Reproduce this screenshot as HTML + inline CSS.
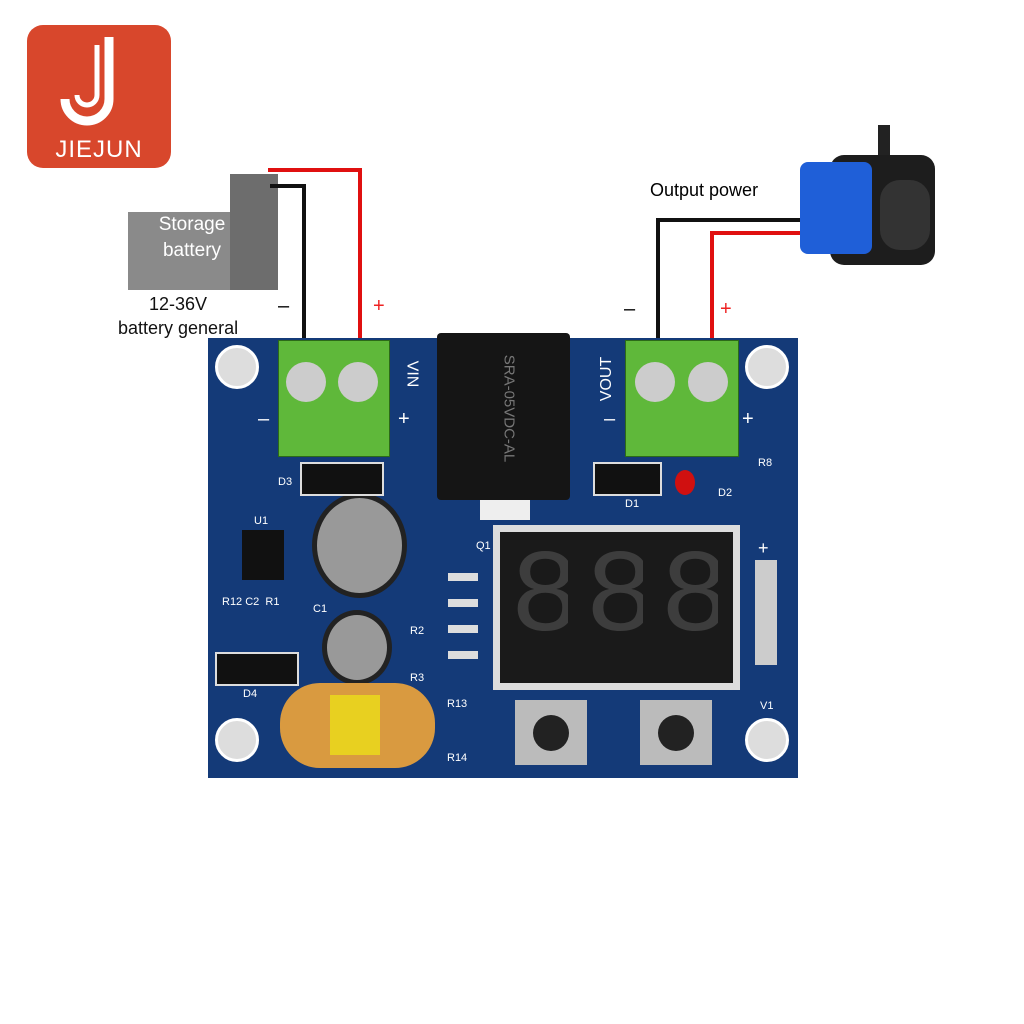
<!DOCTYPE html>
<html><head><meta charset="utf-8"><style>
body{margin:0;width:1024px;height:1024px;background:#fff;position:relative;overflow:hidden;font-family:"Liberation Sans",sans-serif}
.a{position:absolute}
.l{position:absolute;color:#fff;font-size:11px}
.d{position:absolute;top:545px;width:58px;height:110px;color:#3d3d3d;font-size:118px;line-height:110px;font-family:"Liberation Mono",monospace;overflow:hidden;text-align:center}
</style></head><body>
<div class="a" style="left:27px;top:25px;width:144px;height:143px;background:#d8472c;border-radius:16px"></div>
<svg class="a" style="left:27px;top:25px" width="144" height="143">
<path d="M82 12 v62 a22 22 0 0 1 -44 0" stroke="#fff" stroke-width="9" fill="none"/>
<path d="M70 20 v50 a10 10 0 0 1 -20 0" stroke="#fff" stroke-width="5" fill="none"/>
<text x="72" y="132" fill="#fff" font-size="24" text-anchor="middle" font-family="Liberation Sans" letter-spacing="1">JIEJUN</text>
</svg>
<!-- battery -->
<div class="a" style="left:128px;top:212px;width:140px;height:78px;background:#8a8a8a"></div>
<div class="a" style="left:230px;top:174px;width:48px;height:116px;background:#6d6d6d"></div>
<div class="a" style="left:128px;top:212px;width:128px;color:#fff;font-size:19px;text-align:center;line-height:26px">Storage<br>battery</div>
<div class="a" style="left:118px;top:292px;font-size:18px;line-height:24px;text-align:center;color:#111">12-36V<br>battery general</div>
<div class="a" style="left:278px;top:295px;font-size:20px">–</div>
<div class="a" style="left:373px;top:295px;font-size:20px;color:#e22">+</div>
<svg class="a" style="left:0;top:0" width="1024" height="400">
<path d="M268 170 H360 V340" stroke="#e01010" stroke-width="4" fill="none"/>
<path d="M270 186 H304 V340" stroke="#111" stroke-width="4" fill="none"/>
<path d="M805 220 H658 V340" stroke="#111" stroke-width="4" fill="none"/>
<path d="M805 233 H712 V340" stroke="#e01010" stroke-width="4" fill="none"/>
</svg>
<div class="a" style="left:650px;top:180px;font-size:18px">Output power</div>
<div class="a" style="left:624px;top:298px;font-size:20px">–</div>
<div class="a" style="left:720px;top:298px;font-size:20px;color:#e22">+</div>
<!-- pump -->
<div class="a" style="left:878px;top:125px;width:12px;height:35px;background:#222"></div>
<div class="a" style="left:830px;top:155px;width:105px;height:110px;background:#1d1d1d;border-radius:14px"></div>
<div class="a" style="left:800px;top:162px;width:72px;height:92px;background:#1f5fd8;border-radius:8px"></div>
<div class="a" style="left:880px;top:180px;width:50px;height:70px;background:#333;border-radius:20px"></div>
<!-- PCB -->
<div class="a" style="left:208px;top:338px;width:590px;height:440px;background:#143a78"></div>
<div class="a" style="left:215px;top:345px;width:44px;height:44px;border-radius:50%;background:#ddd;border:3px solid #fff;box-sizing:border-box"></div>
<div class="a" style="left:745px;top:345px;width:44px;height:44px;border-radius:50%;background:#ddd;border:3px solid #fff;box-sizing:border-box"></div>
<div class="a" style="left:215px;top:718px;width:44px;height:44px;border-radius:50%;background:#ddd;border:3px solid #fff;box-sizing:border-box"></div>
<div class="a" style="left:745px;top:718px;width:44px;height:44px;border-radius:50%;background:#ddd;border:3px solid #fff;box-sizing:border-box"></div>
<div class="a" style="left:278px;top:340px;width:110px;height:115px;background:#5fb83a;border:1px solid #2c6a18"></div>
<div class="a" style="left:286px;top:362px;width:40px;height:40px;border-radius:50%;background:#ccc"></div>
<div class="a" style="left:338px;top:362px;width:40px;height:40px;border-radius:50%;background:#ccc"></div>
<div class="a" style="left:625px;top:340px;width:112px;height:115px;background:#5fb83a;border:1px solid #2c6a18"></div>
<div class="a" style="left:635px;top:362px;width:40px;height:40px;border-radius:50%;background:#ccc"></div>
<div class="a" style="left:688px;top:362px;width:40px;height:40px;border-radius:50%;background:#ccc"></div>
<div class="l" style="left:398px;top:365px;font-size:16px;transform:rotate(90deg)">VIN</div>
<div class="l" style="left:585px;top:370px;font-size:16px;transform:rotate(-90deg)">VOUT</div>
<div class="l" style="left:258px;top:408px;font-size:20px">–</div>
<div class="l" style="left:398px;top:408px;font-size:20px">+</div>
<div class="l" style="left:604px;top:408px;font-size:20px">–</div>
<div class="l" style="left:742px;top:408px;font-size:20px">+</div>
<div class="a" style="left:437px;top:333px;width:133px;height:167px;background:#151515;border-radius:4px"></div>
<div class="a" style="left:455px;top:400px;color:#777;font-size:15px;transform:rotate(90deg);white-space:nowrap">SRA-05VDC-AL</div>
<div class="a" style="left:480px;top:500px;width:50px;height:20px;background:#eee"></div>
<div class="a" style="left:312px;top:493px;width:95px;height:105px;border-radius:50%;background:#999;border:5px solid #222;box-sizing:border-box"></div>
<div class="a" style="left:322px;top:610px;width:70px;height:75px;border-radius:50%;background:#999;border:5px solid #222;box-sizing:border-box"></div>
<div class="a" style="left:280px;top:683px;width:155px;height:85px;border-radius:40px;background:#d99a40"></div>
<div class="a" style="left:330px;top:695px;width:50px;height:60px;background:#e8d020"></div>
<div class="a" style="left:300px;top:462px;width:80px;height:30px;background:#111;border:2px solid #ddd"></div>
<div class="a" style="left:215px;top:652px;width:80px;height:30px;background:#111;border:2px solid #ddd"></div>
<div class="a" style="left:593px;top:462px;width:65px;height:30px;background:#111;border:2px solid #ddd"></div>
<div class="a" style="left:242px;top:530px;width:42px;height:50px;background:#111"></div>
<div class="a" style="left:675px;top:470px;width:20px;height:25px;border-radius:50%;background:#d01010"></div>
<div class="l" style="left:278px;top:476px">D3</div>
<div class="l" style="left:625px;top:498px">D1</div>
<div class="l" style="left:718px;top:487px">D2</div>
<div class="l" style="left:254px;top:515px">U1</div>
<div class="l" style="left:222px;top:596px">R12 C2 &nbsp;R1</div>
<div class="l" style="left:313px;top:603px">C1</div>
<div class="l" style="left:243px;top:688px">D4</div>
<div class="l" style="left:410px;top:625px">R2</div>
<div class="l" style="left:410px;top:672px">R3</div>
<div class="l" style="left:447px;top:698px">R13</div>
<div class="l" style="left:447px;top:752px">R14</div>
<div class="l" style="left:476px;top:540px">Q1</div>
<div class="l" style="left:758px;top:457px">R8</div>
<div class="l" style="left:760px;top:700px">V1</div>
<div class="a" style="left:448px;top:565px;width:30px;height:110px;background:repeating-linear-gradient(#143a78 0 8px,#ddd 8px 16px,#143a78 16px 26px)"></div>
<!-- display -->
<div class="a" style="left:493px;top:525px;width:247px;height:165px;background:#ddd"></div>
<div class="a" style="left:500px;top:532px;width:233px;height:151px;background:#1a1a1a"></div>
<div class="d" style="left:510px">8</div>
<div class="d" style="left:585px">8</div>
<div class="d" style="left:660px">8</div>
<div class="a" style="left:755px;top:560px;width:22px;height:105px;background:#ccc"></div>
<div class="l" style="left:758px;top:538px;font-size:18px">+</div>
<div class="a" style="left:515px;top:700px;width:72px;height:65px;background:#bbb"></div>
<div class="a" style="left:533px;top:715px;width:36px;height:36px;border-radius:50%;background:#222"></div>
<div class="a" style="left:640px;top:700px;width:72px;height:65px;background:#bbb"></div>
<div class="a" style="left:658px;top:715px;width:36px;height:36px;border-radius:50%;background:#222"></div>
</body></html>
